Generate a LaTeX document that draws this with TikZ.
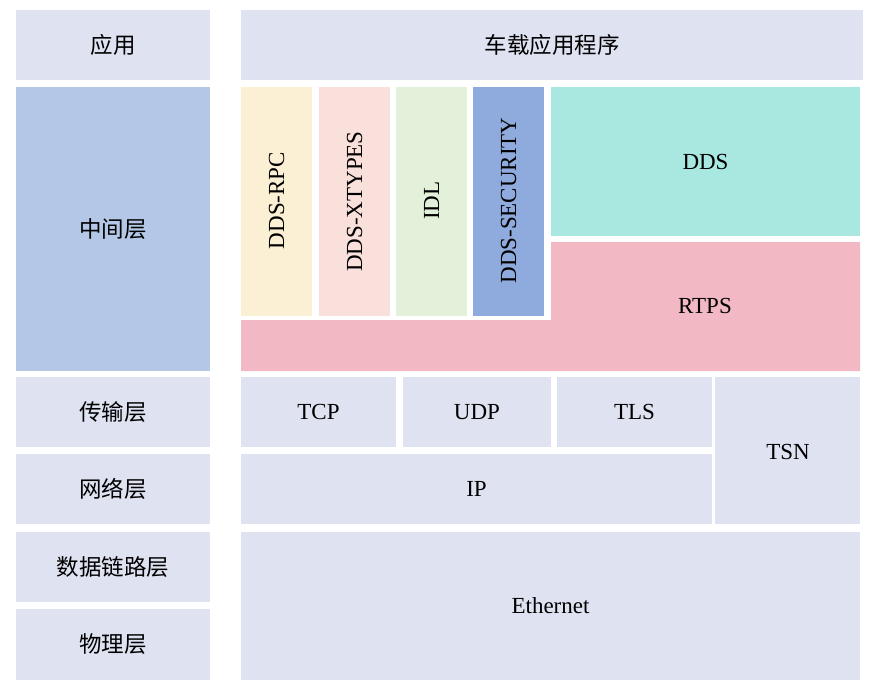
\documentclass[tikz,border=0pt]{standalone}
\usepackage{fontspec}
\setmainfont{Liberation Serif}
\newfontfamily\cjk{Noto Sans CJK SC}
\definecolor{lav}{RGB}{223,226,241}
\definecolor{midc}{RGB}{180,199,231}
\definecolor{rpcc}{RGB}{252,240,212}
\definecolor{xtc}{RGB}{249,224,218}
\definecolor{idlc}{RGB}{227,240,218}
\definecolor{secc}{RGB}{143,170,220}
\definecolor{ddsc}{RGB}{169,232,225}
\definecolor{rtpsc}{RGB}{242,185,196}
\newcommand\mybox[7]{\node[blk, fill=#6, minimum width={(#4-#2)*1pt}, minimum height={(#5-#3)*1pt}] (#1) at ({(#2+#4)/2},{(#3+#5)/2}) {#7};}
\begin{document}
\begin{tikzpicture}[x=1pt,y=-1pt,
  blk/.style={rectangle, draw=none, inner sep=0pt, font=\fontsize{23}{27}\selectfont},
  lbl/.style={inner sep=0pt, font=\fontsize{23}{27}\selectfont},
  zh/.style={font=\fontsize{22.5}{27}\selectfont\cjk}]
\useasboundingbox (0,0) rectangle (873,691);
\fill[white] (0,0) rectangle (873,691);
% left column
\mybox{app}{16}{10}{210}{80}{lav}{}
\mybox{mid}{16}{87}{210}{371}{midc}{}
\mybox{trans}{16}{377}{210}{447}{lav}{}
\mybox{net}{16}{454}{210}{524}{lav}{}
\mybox{link}{16}{532}{210}{602}{lav}{}
\mybox{phy}{16}{609}{210}{680}{lav}{}
\node[zh] (tapp) at (app.center) {应用};
\node[zh] (tmid) at (mid.center) {中间层};
\node[zh] (ttrans) at (trans.center) {传输层};
\node[zh] (tnet) at (net.center) {网络层};
\node[zh] (tlink) at (link.center) {数据链路层};
\node[zh] (tphy) at (phy.center) {物理层};
% right
\mybox{car}{241}{10}{863}{80}{lav}{}
\node[zh] (tcar) at (car.center) {车载应用程序};
\mybox{rpc}{241}{87}{312}{316}{rpcc}{}
\mybox{xt}{319}{87}{390}{316}{xtc}{}
\mybox{idl}{396}{87}{467}{316}{idlc}{}
\mybox{sec}{473}{87}{544}{316}{secc}{}
\node[lbl, rotate=90] (trpc) at ([yshift=1pt]rpc.center) {DDS-RPC};
\node[lbl, rotate=90] (txt) at ([yshift=0pt]xt.center) {DDS-XTYPES};
\node[lbl, rotate=90] (tidl) at ([yshift=1pt]idl.center) {IDL};
\node[lbl, rotate=90] (tsec) at ([yshift=1pt]sec.center) {DDS-SECURITY};
\mybox{dds}{551}{87}{860}{236}{ddsc}{DDS}
\fill[rtpsc] (241,320) -- (551,320) -- (551,242) -- (860,242) -- (860,371) -- (241,371) -- cycle;
\node[lbl] (trtps) at (705,306) {RTPS};
\mybox{tcp}{241}{377}{396}{447}{lav}{TCP}
\mybox{udp}{403}{377}{551}{447}{lav}{UDP}
\mybox{tls}{557}{377}{712}{447}{lav}{TLS}
\mybox{tsn}{715}{377}{860}{524}{lav}{}
\node[lbl] (ttsn) at (788,452) {TSN};
\mybox{ip}{241}{454}{712}{524}{lav}{IP}
\mybox{eth}{241}{532}{860}{680}{lav}{Ethernet}
\end{tikzpicture}
\end{document}
